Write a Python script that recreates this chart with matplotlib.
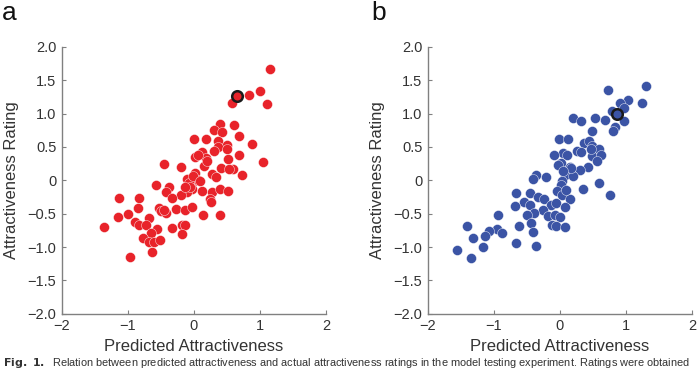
import numpy as np
import matplotlib.pyplot as plt

plt.rcParams['font.family'] = ['Liberation Sans', 'DejaVu Sans']

# panel a: predicted vs rated (red)
pred_a = [1.146, 0.571, 0.833, 0.995, 1.106, 0.399, 0.601, 0.298, 0.429, -0.005,
          0.187, 0.677, 0.369, 0.879, 0.5, 0.359, 0.5, 0.308, 0.116, 0.682,
          0.015, 0.187, 0.52, 1.045, -0.46, -0.197, 0.146, 0.409, 0.591, 0.53,
          0.015, 0.278, 0.338, 0.722, -0.106, -0.005, 0.056, -0.571, -0.379, -0.43,
          -0.086, -0.035, -0.106, 0.116, 0.268, 0.389, 0.52, -0.197, -0.328, 0.247,
          0.258, -1.136, -0.833, -0.854, -0.53, -0.5, -0.429, -0.278, -0.136, -0.035,
          0.136, 0.389, -1.146, -0.995, -0.682, -0.894, -0.833, -0.722, -0.561, -0.338,
          -0.187, -0.136, -1.369, -0.652, -0.177, -0.773, -0.682, -0.611, -0.52, -0.631,
          -0.975, -0.46, -0.075, -0.015, 0.086, -0.056, -0.136, 0.197, 0.066]
rate_a = [1.66, 1.165, 1.28, 1.335, 1.15, 0.84, 0.825, 0.755, 0.725, 0.625,
          0.625, 0.665, 0.595, 0.545, 0.525, 0.505, 0.465, 0.435, 0.425, 0.375,
          0.345, 0.335, 0.315, 0.28, 0.24, 0.205, 0.215, 0.185, 0.175, 0.165,
          0.115, 0.095, 0.055, 0.075, 0.015, -0.01, 0.005, -0.075, -0.095, -0.175,
          -0.085, -0.135, -0.175, -0.165, -0.175, -0.125, -0.165, -0.225, -0.265, -0.275,
          -0.325, -0.265, -0.265, -0.415, -0.415, -0.455, -0.495, -0.435, -0.445, -0.395,
          -0.525, -0.515, -0.555, -0.505, -0.565, -0.625, -0.675, -0.675, -0.725, -0.715,
          -0.675, -0.665, -0.695, -0.785, -0.805, -0.865, -0.925, -0.925, -0.895, -1.075,
          -1.155, -0.445, -0.035, 0.065, -0.015, -0.095, -0.095, 0.295, 0.375]
hl_a = (0.652, 1.255)

# panel b (blue)
pred_b = [1.30, 0.726, 1.025, 0.914, 1.249, 0.964, 0.782, 0.975, 0.68, 0.538,
          0.203, 0.325, 0.832, 0.802, 0.487, -0.01, 0.122, 0.366, 0.437, 0.487,
          0.589, 0.264, 0.315, 0.041, 0.112, -0.091, 0.487, 0.619, 0.558, 0.02,
          -0.03, 0.152, 0.426, 0.305, 0.081, 0.193, -0.365, -0.406, -0.213, 0.03,
          0.01, 0.599, -0.051, 0.03, 0.345, -0.67, -0.457, -0.325, -0.244, 0.152,
          -0.548, 0.761, -0.68, -0.457, -0.132, -0.061, 0.081, -0.254, -0.386, -0.497,
          -0.183, -0.081, 0.0, -0.934, -0.437, -0.619, -0.122, -0.061, 0.081, -1.411,
          -0.954, -1.076, -0.883, -1.137, -1.32, -0.406, -0.66, -0.365, -1.168, -1.553,
          -1.35, 0.477, 0.163, 0.041, 0.091]
rate_b = [1.41, 1.35, 1.21, 1.165, 1.165, 1.085, 1.045, 0.895, 0.905, 0.935,
          0.935, 0.885, 0.805, 0.74, 0.745, 0.615, 0.625, 0.555, 0.585, 0.515,
          0.475, 0.435, 0.425, 0.415, 0.385, 0.375, 0.365, 0.375, 0.285, 0.265,
          0.225, 0.205, 0.205, 0.155, 0.085, 0.065, 0.075, 0.025, 0.045, -0.005,
          -0.075, -0.035, -0.165, -0.215, -0.125, -0.195, -0.195, -0.245, -0.285, -0.285,
          -0.325, -0.225, -0.385, -0.375, -0.365, -0.345, -0.395, -0.445, -0.495, -0.525,
          -0.535, -0.515, -0.545, -0.515, -0.645, -0.685, -0.675, -0.685, -0.695, -0.685,
          -0.725, -0.765, -0.785, -0.835, -0.865, -0.775, -0.935, -0.985, -1.005, -1.045,
          -1.165, 0.465, 0.185, 0.135, -0.145]
hl_b = (0.863, 1.0)

xticks = [-2, -1, 0, 1, 2]
yticks = [-2.0, -1.5, -1.0, -0.5, 0, 0.5, 1.0, 1.5, 2.0]
ytick_labels = ['\u22122.0', '\u22121.5', '\u22121.0', '\u22120.5', '0', '0.5', '1.0', '1.5', '2.0']
xtick_labels = ['\u22122', '\u22121', '0', '1', '2']

fig = plt.figure(figsize=(7, 3.71), dpi=100)
ax_a = fig.add_axes([0.0886, 0.154, 0.377, 0.72])
ax_b = fig.add_axes([0.6114, 0.154, 0.377, 0.72])

panels = [(ax_a, pred_a, rate_a, hl_a, '#e8232a', 'a', 0.003),
          (ax_b, pred_b, rate_b, hl_b, '#3b54a5', 'b', 0.531)]

for ax, px, py, hl, col, lab, lx in panels:
    ax.scatter(px, py, s=52, c=col, edgecolors='white', linewidths=0.3, zorder=3)
    ax.scatter([hl[0]], [hl[1]], s=58, c=col, edgecolors='#1a1a1a', linewidths=1.8, zorder=4)
    ax.set_xlim(-2, 2)
    ax.set_ylim(-2, 2)
    ax.set_xticks(xticks)
    ax.set_xticklabels(xtick_labels)
    ax.set_yticks(yticks)
    ax.set_yticklabels(ytick_labels)
    ax.spines['top'].set_visible(False)
    ax.spines['right'].set_visible(False)
    for s in ['left', 'bottom']:
        ax.spines[s].set_color('#808080')
        ax.spines[s].set_linewidth(1.0)
    ax.tick_params(direction='in', length=3, color='#808080', labelsize=10.5,
                   labelcolor='#333333', pad=4)
    ax.set_xlabel('Predicted Attractiveness', fontsize=12, color='#333333', labelpad=4)
    ax.set_ylabel('Attractiveness Rating', fontsize=12, color='#333333', labelpad=6)
    fig.text(lx, 0.946, lab, fontsize=19, color='#111111', va='baseline', ha='left')

fig.text(0.004, 0.013, r'$\bf{Fig.\ 1.}$  Relation between predicted attractiveness and actual attractiveness '
         'ratings in the model testing experiment. Ratings were obtained',
         fontsize=7.9, color='#333333', ha='left', va='baseline')

fig.savefig('out.png', dpi=100)
